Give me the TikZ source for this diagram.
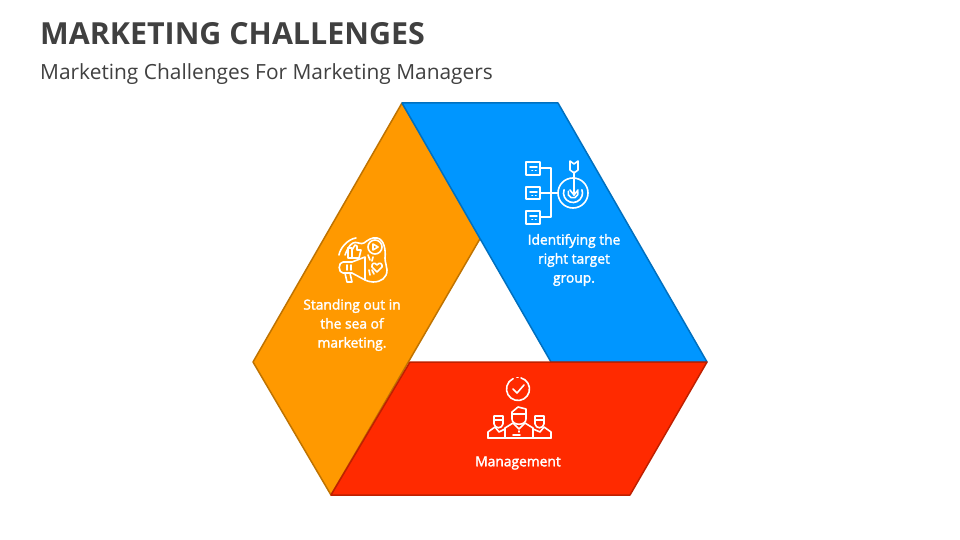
\documentclass[tikz,border=0pt]{standalone}
\usepackage{fontspec}
\setmainfont{Open Sans}
\newfontfamily\cardfont[FakeBold=2]{Open Sans}
\tikzset{
	panel/.style={line width=1.5pt, line join=round},
	icon/.style={draw=white, line width=1.6pt, line cap=round, line join=round},
	cardtext/.style={text=white, align=center, font=\fontsize{13.8}{19}\cardfont},
}
\definecolor{panelorange}{HTML}{FF9900}
\definecolor{edgeorange}{HTML}{BF7300}
\definecolor{panelblue}{HTML}{0096FF}
\definecolor{edgeblue}{HTML}{0070BF}
\definecolor{panelred}{HTML}{FF2A00}
\definecolor{edgered}{HTML}{BF2000}
\definecolor{titlegrey}{HTML}{404040}

\begin{document}
\begin{tikzpicture}[x=1pt, y=-1pt]
	\useasboundingbox (0, 0) rectangle (960, 540);
\fill[white] (0, 0) rectangle (960, 540);
\node[anchor=west, inner sep=0pt, text=titlegrey, font=\fontsize{30.4}{30}\selectfont\bfseries] (title) at (40, 34) {MARKETING CHALLENGES};
\node[anchor=west, inner sep=0pt, text=titlegrey, font=\fontsize{20.9}{21}\selectfont] (subtitle) at (40, 74.5) {Marketing Challenges For Marketing Managers};
\draw[panel, fill=panelorange, draw=edgeorange] (402, 103) -- (481, 237) -- (331, 495) -- (253, 362) -- cycle; % orange
\draw[panel, fill=panelblue, draw=edgeblue] (402, 103) -- (558, 103) -- (707, 362) -- (551, 362) -- cycle; % blue
\draw[panel, fill=panelred, draw=edgered] (410, 362) -- (707, 362) -- (630, 495) -- (331, 495) -- cycle; % red
% target icon
\draw[icon] (526, 162) rectangle (540, 175);
\draw[icon] (526, 187) rectangle (540, 199);
\draw[icon] (526, 211) rectangle (540, 224);
\foreach \y in {167, 192, 216} {
	\draw[icon] (530, \y) -- (537, \y);
	\draw[icon] (532, \y+3.5) -- (532.5, \y+3.5);
	\draw[icon] (535.5, \y+3.5) -- (536, \y+3.5);
}
\draw[icon] (540, 168) -- (551, 168) -- (551, 217) -- (540, 217);
\draw[icon] (540, 193) -- (558, 193);
\draw[icon] (573, 193) circle (15);
\draw[icon] (573, 193) ++(200:9.5) arc (200:-20:9.5);
\draw[icon] (573, 193) ++(200:5) arc (200:-20:5);
\draw[icon] (574, 172) -- (574, 195);
\draw[icon] (570, 190) -- (574, 195) -- (578, 190);
\draw[icon] (570, 161) -- (574, 164) -- (578, 161) -- (578, 170) -- (574, 173) -- (570, 170) -- cycle;
% megaphone icon
\draw[icon] (345, 255) .. controls (347, 250) and (349, 245) .. (353, 243) .. controls (356, 241) and (361, 245) .. (364, 243) .. controls (368, 240) and (372, 237) .. (377, 238) .. controls (384, 239) and (386, 250) .. (385, 258) .. controls (385, 263) and (387, 266) .. (387, 270) .. controls (387, 278) and (381, 282) .. (373, 282) .. controls (370, 282) and (367, 281) .. (365, 280);
\draw[icon] (339, 255) .. controls (340, 248) and (348, 239) .. (356, 238);
\draw[icon] (375, 247) circle (7);
\draw[icon] (373, 244) -- (378, 247) -- (373, 250) -- cycle;
\draw[icon] (348, 248) rectangle (352, 258);
\draw[icon] (352, 250) -- (355, 245) -- (357, 246) -- (357, 250) -- (361, 250) -- (359, 258) -- (352, 258);
\draw[icon] (377, 272) -- (372, 267) .. controls (371, 263) and (375, 262) .. (377, 265) .. controls (379, 262) and (383, 263) .. (382, 267) -- cycle;
\draw[icon] (365, 257) -- (352, 262) -- (343, 262) .. controls (338, 262) and (338, 273) .. (343, 273) -- (352, 273) -- (365, 280) -- cycle;
\draw[icon] (345, 273) -- (347, 282) -- (352, 282) -- (350, 273);
\draw[icon] (347, 265) -- (347, 270);
\draw[icon] (351, 265) -- (351, 270);
\draw[icon] (368, 255) -- (370, 260);
\draw[icon] (373, 257) -- (372, 261);
\draw[icon] (369, 270) -- (370, 275);
\draw[icon] (374, 274) -- (372, 270);
% people icon
\draw[icon] (518, 389) ++(-75:11.5) arc (-75:245:11.5);
\draw[icon] (517, 377.5) -- (518, 377.5);
\draw[icon] (513, 389) -- (517, 393) -- (524, 385);
\draw[icon] (512, 412) -- (512, 419) .. controls (512, 426) and (526, 426) .. (526, 419) -- (526, 409) -- (518, 407) -- cycle;
\draw[icon] (512, 414) -- (526, 414);
\draw[icon] (505, 438) -- (505, 428) -- (513, 423) -- (519, 429) -- (525, 423) -- (533, 428) -- (533, 438);
\draw[icon] (513, 435) -- (520, 435);
\draw[icon] (519, 431) -- (519, 432);
\draw[icon] (494, 416) -- (503, 416) -- (503, 424) .. controls (502, 429) and (495, 429) .. (494, 424) -- cycle;
\draw[icon] (494, 420) -- (503, 420);
\draw[icon] (488, 438) -- (488, 432) -- (495, 427) -- (499, 432) -- (505, 429);
\draw[icon] (535, 416) -- (544, 416) -- (544, 424) .. controls (543, 429) and (536, 429) .. (535, 424) -- cycle;
\draw[icon] (535, 420) -- (544, 420);
\draw[icon] (551, 438) -- (551, 432) -- (544, 427) -- (540, 432) -- (533, 429);
\draw[icon] (488, 438) -- (551, 438);
% labels
\node[cardtext] (target) at (574, 260) {Identifying the\\right target\\group.};
\node[cardtext] (standing) at (352, 325) {Standing out in\\the sea of\\marketing.};
\node[cardtext] (management) at (518, 463) {Management};

	\end{tikzpicture}
\end{document}
